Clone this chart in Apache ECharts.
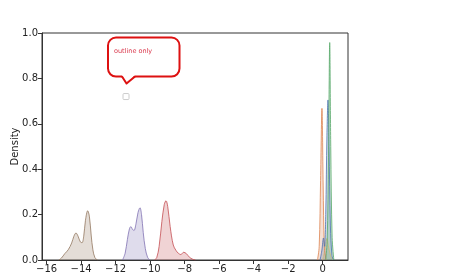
<!DOCTYPE html>
<html><head><meta charset="utf-8">
<script src="https://cdn.jsdelivr.net/npm/echarts@6/dist/echarts.min.js"></script>
<style>html,body{margin:0;padding:0;background:#fff}#c{width:474px;height:279px}</style>
</head><body><div id="c"></div>
<script>
const xTicks = [-16, -14, -12, -10, -8, -6, -4, -2, 0];
const yTicks = [0, 0.2, 0.4, 0.6, 0.8, 1.0];

const brownX = [-15.3, -15.15, -14.95, -14.75, -14.55, -14.42, -14.3, -14.18, -14.05, -13.95, -13.85, -13.75, -13.62, -13.52, -13.42, -13.32, -13.2, -13.05];
const brownY = [0, 0.008, 0.028, 0.045, 0.075, 0.105, 0.119, 0.105, 0.08, 0.076, 0.105, 0.175, 0.217, 0.19, 0.11, 0.045, 0.01, 0];

const purpleX = [-11.6, -11.45, -11.32, -11.2, -11.12, -11.02, -10.94, -10.82, -10.7, -10.59, -10.5, -10.4, -10.28, -10.15, -10.02];
const purpleY = [0, 0.03, 0.09, 0.138, 0.147, 0.135, 0.13, 0.16, 0.21, 0.23, 0.2, 0.12, 0.05, 0.012, 0];

const redX = [-9.75, -9.62, -9.48, -9.32, -9.18, -9.08, -8.98, -8.84, -8.66, -8.5, -8.37, -8.22, -8.06, -7.9, -7.72, -7.55, -7.38];
const redY = [0, 0.01, 0.06, 0.17, 0.245, 0.261, 0.235, 0.147, 0.066, 0.042, 0.03, 0.024, 0.034, 0.028, 0.012, 0.004, 0];

const orangeX = [-0.3, -0.2, -0.12, -0.04, 0.03, 0.1, 0.2];
const orangeY = [0, 0.06, 0.35, 0.668, 0.33, 0.06, 0];

const blueX = [-0.15, -0.05, 0.05, 0.11, 0.18, 0.25, 0.31, 0.37, 0.45, 0.54, 0.62];
const blueY = [0, 0.04, 0.097, 0.06, 0.2, 0.55, 0.705, 0.5, 0.15, 0.02, 0];

const greenX = [0.17, 0.26, 0.34, 0.41, 0.47, 0.55, 0.65];
const greenY = [0, 0.08, 0.45, 0.958, 0.5, 0.1, 0];

const oliveX = [0.0, 0.12, 0.25, 0.36, 0.48, 0.6];
const oliveY = [0, 0.04, 0.095, 0.05, 0.015, 0];

const annX = -11.4, annY = 0.72;
const annText = 'outline only';

function pairs(xs, ys) { return xs.map((x, i) => [x, ys[i]]); }
function kde(name, xs, ys, color) {
  return {
    type: 'line', name: name, data: pairs(xs, ys), smooth: 0.35, showSymbol: false, symbol: 'none',
    lineStyle: { color: color, width: 1, opacity: 0.8 },
    areaStyle: { color: color, opacity: 0.25 },
    silent: true, animation: false
  };
}
const minus = v => String(v).replace('-', '\u2212');

const chart = echarts.init(document.getElementById('c'));
chart.setOption({
  animation: false,
  grid: { left: 42, right: 126, top: 33, bottom: 19, outerBoundsMode: 'none', containLabel: false, show: true, borderColor: '#333', borderWidth: 1, backgroundColor: 'transparent' },
  xAxis: {
    type: 'value', min: -16.27, max: 1.47,
    axisLine: { show: true, onZero: false, lineStyle: { color: '#333' } },
    splitLine: { show: false },
    axisTick: { show: true, length: 4, lineStyle: { color: '#333' }, customValues: xTicks },
    axisLabel: { customValues: xTicks, formatter: v => minus(v), color: '#222', fontFamily: 'DejaVu Sans', fontSize: 10, margin: 4 }
  },
  yAxis: {
    type: 'value', min: 0, max: 1.0, interval: 0.2,
    name: 'Density', nameLocation: 'middle', nameRotate: 90, nameGap: 22, nameMoveOverlap: false,
    nameTextStyle: { color: '#222', fontFamily: 'DejaVu Sans', fontSize: 10 },
    axisLine: { show: true, onZero: false, lineStyle: { color: '#333' } },
    splitLine: { show: false },
    axisTick: { show: true, length: 4, lineStyle: { color: '#333' } },
    axisLabel: { formatter: v => v.toFixed(1), color: '#222', fontFamily: 'DejaVu Sans', fontSize: 10, margin: 4 }
  },
  series: [
    kde('brown', brownX, brownY, '#937860'),
    kde('purple', purpleX, purpleY, '#8172b3'),
    kde('red', redX, redY, '#c44e52'),
    kde('olive', oliveX, oliveY, '#ccb974'),
    kde('orange', orangeX, orangeY, '#dd8452'),
    kde('blue', blueX, blueY, '#4c72b0'),
    kde('green', greenX, greenY, '#55a868')
  ]
});

const p = chart.convertToPixel({ xAxisIndex: 0, yAxisIndex: 0 }, [annX, annY]);
const ax = p[0], ay = p[1];
const L = -18, R = 53.5, T = -59, B = -20;
chart.setOption({
  graphic: [
    { type: 'rect', x: ax + L, y: ay + T, shape: { width: R - L, height: B - T, r: 8 }, style: { fill: '#fff', stroke: '#dd1111', lineWidth: 2 }, z: 100 },
    { type: 'polygon', x: ax, y: ay, shape: { points: [[-4, B - 1.5], [0.5, -13], [9, B - 1.5]] }, style: { fill: '#fff', stroke: null }, z: 101 },
    { type: 'polyline', x: ax, y: ay, shape: { points: [[-4, B], [0.5, -13], [9, B]] }, style: { fill: null, stroke: '#dd1111', lineWidth: 2, lineJoin: 'round' }, z: 102 },
    { type: 'text', x: ax - 12, y: ay - 45, style: { text: annText, fill: '#d9364a', font: '6.5px "DejaVu Sans"', textVerticalAlign: 'middle' }, z: 103 },
    { type: 'rect', x: ax - 3, y: ay - 3, shape: { width: 6, height: 6, r: 1 }, style: { fill: '#fff', stroke: '#cccccc', lineWidth: 1 }, z: 100 }
  ]
});
</script>
</body></html>
